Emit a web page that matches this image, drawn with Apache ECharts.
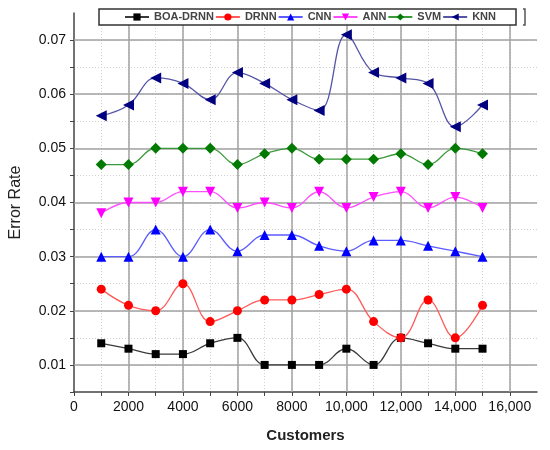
<!DOCTYPE html>
<html><head><meta charset="utf-8">
<script src="https://cdn.jsdelivr.net/npm/echarts@6/dist/echarts.min.js"></script>
<style>html,body{margin:0;padding:0;background:#fff}#c{width:550px;height:450px}</style>
</head><body><div id="c"></div>
<script>
const customers = [1000,2000,3000,4000,5000,6000,7000,8000,9000,10000,11000,12000,13000,14000,15000];
const boaDrnn = [0.014,0.013,0.012,0.012,0.014,0.015,0.010,0.010,0.010,0.013,0.010,0.015,0.014,0.013,0.013];
const drnn    = [0.024,0.021,0.020,0.025,0.018,0.020,0.022,0.022,0.023,0.024,0.018,0.015,0.022,0.015,0.021];
const cnn     = [0.030,0.030,0.035,0.030,0.035,0.031,0.034,0.034,0.032,0.031,0.033,0.033,0.032,0.031,0.030];
const ann     = [0.038,0.040,0.040,0.042,0.042,0.039,0.040,0.039,0.042,0.039,0.041,0.042,0.039,0.041,0.039];
const svm     = [0.047,0.047,0.050,0.050,0.050,0.047,0.049,0.050,0.048,0.048,0.048,0.049,0.047,0.050,0.049];
const knn     = [0.056,0.058,0.063,0.062,0.059,0.064,0.062,0.059,0.057,0.071,0.064,0.063,0.062,0.054,0.058];
const seriesNames = ['BOA-DRNN','DRNN','CNN','ANN','SVM','KNN'];
const xMajorTicks = [2000,4000,6000,8000,10000,12000,14000,16000];
const yMajorTicks = [0.01,0.02,0.03,0.04,0.05,0.06,0.07];

const pairs = vals => customers.map((c,i)=>[c, vals[i]]);
const styles = [
  {data: boaDrnn, symbol:'rect', size:8, rotate:0, line:'#3a3a3a', mark:'#000000'},
  {data: drnn, symbol:'circle', size:9, rotate:0, line:'#ff5a5a', mark:'#ff0000'},
  {data: cnn, symbol:'triangle', size:10, rotate:0, line:'#5c5cff', mark:'#0000ff'},
  {data: ann, symbol:'triangle', size:10, rotate:180, line:'#ff4cff', mark:'#ff00ff'},
  {data: svm, symbol:'diamond', size:11, rotate:0, line:'#3a9a3a', mark:'#007a00'},
  {data: knn, symbol:'triangle', size:11, rotate:90, line:'#5555a8', mark:'#000080'}
];

const series = styles.map((s,i)=>({
  name: seriesNames[i], type:'line', data: pairs(s.data), smooth:0.4,
  symbol:s.symbol, symbolSize:s.size, symbolRotate:s.rotate, showAllSymbol:true,
  lineStyle:{color:s.line, width:1.3}, itemStyle:{color:s.mark},
  emphasis:{disabled:true}, z:3
}));
series.push({
  type:'line', data:[], silent:true,
  markLine:{
    silent:true, symbol:['none','none'], z:1, label:{show:false},
    lineStyle:{color:'#a2a2a2', width:1.5, type:'solid'},
    emphasis:{disabled:true},
    data: yMajorTicks.map(v=>({yAxis:v})).concat(xMajorTicks.map(v=>({xAxis:v})))
  }
});

const chart = echarts.init(document.getElementById('c'), null, {renderer:'canvas'});
chart.setOption({
  animation:false,
  backgroundColor:'#ffffff',
  grid:{left:74, right:13, top:13, bottom:58, containLabel:false},
  legend:{
    data: seriesNames, left:124, top:10, itemGap:1, itemWidth:24, itemHeight:9,
    padding:0,
    textStyle:{fontSize:11, fontWeight:'bold', color:'#444', fontFamily:'Arial, Liberation Sans', lineHeight:14},
    selectedMode:false, z:10
  },
  graphic:[
    {type:'rect', z:3, shape:{x:99, y:9, width:417, height:16}, style:{fill:'#fff', stroke:'#333', lineWidth:1.5}},
    {type:'polyline', z:3, shape:{points:[[523,9],[525,9],[525,25],[523,25]]}, style:{fill:null, stroke:'#555', lineWidth:1.5}}
  ],
  xAxis:{
    type:'value', min:0, max:17000, interval:1000,
    name:'Customers', nameLocation:'middle', nameGap:36,
    nameTextStyle:{fontSize:15, fontWeight:'bold', color:'#222', fontFamily:'Arial, Liberation Sans'},
    axisLine:{show:true, onZero:false, lineStyle:{color:'#444', width:1.5}},
    axisTick:{show:true, length:4, lineStyle:{color:'#444'}},
    axisLabel:{margin:8, fontSize:14, color:'#111', fontFamily:'Arial, Liberation Sans',
      showMaxLabel:false,
      formatter: v => (v % 2000 !== 0) ? '' : (v >= 10000 ? v.toLocaleString('en-US') : String(v))},
    splitLine:{show:true, showMaxLine:false, showMinLine:false, lineStyle:{color:'#cfcfcf', width:1, type:[1,2]}}
  },
  yAxis:{
    type:'value', min:0.005, max:0.075, interval:0.005,
    name:'Error Rate', nameLocation:'middle', nameGap:50,
    nameTextStyle:{fontSize:16, color:'#222', fontFamily:'Arial, Liberation Sans'},
    axisLine:{show:true, onZero:false, lineStyle:{color:'#444', width:1.5}},
    axisTick:{show:true, length:4, lineStyle:{color:'#444'}},
    axisLabel:{margin:8, fontSize:14, color:'#111', fontFamily:'Arial, Liberation Sans',
      showMaxLabel:false,
      formatter: v => (Math.round(v*1000) % 10 === 0) ? v.toFixed(2) : ''},
    splitLine:{show:true, showMaxLine:false, showMinLine:false, lineStyle:{color:'#cfcfcf', width:1, type:[1,2]}}
  },
  series: series
});
</script></body></html>
